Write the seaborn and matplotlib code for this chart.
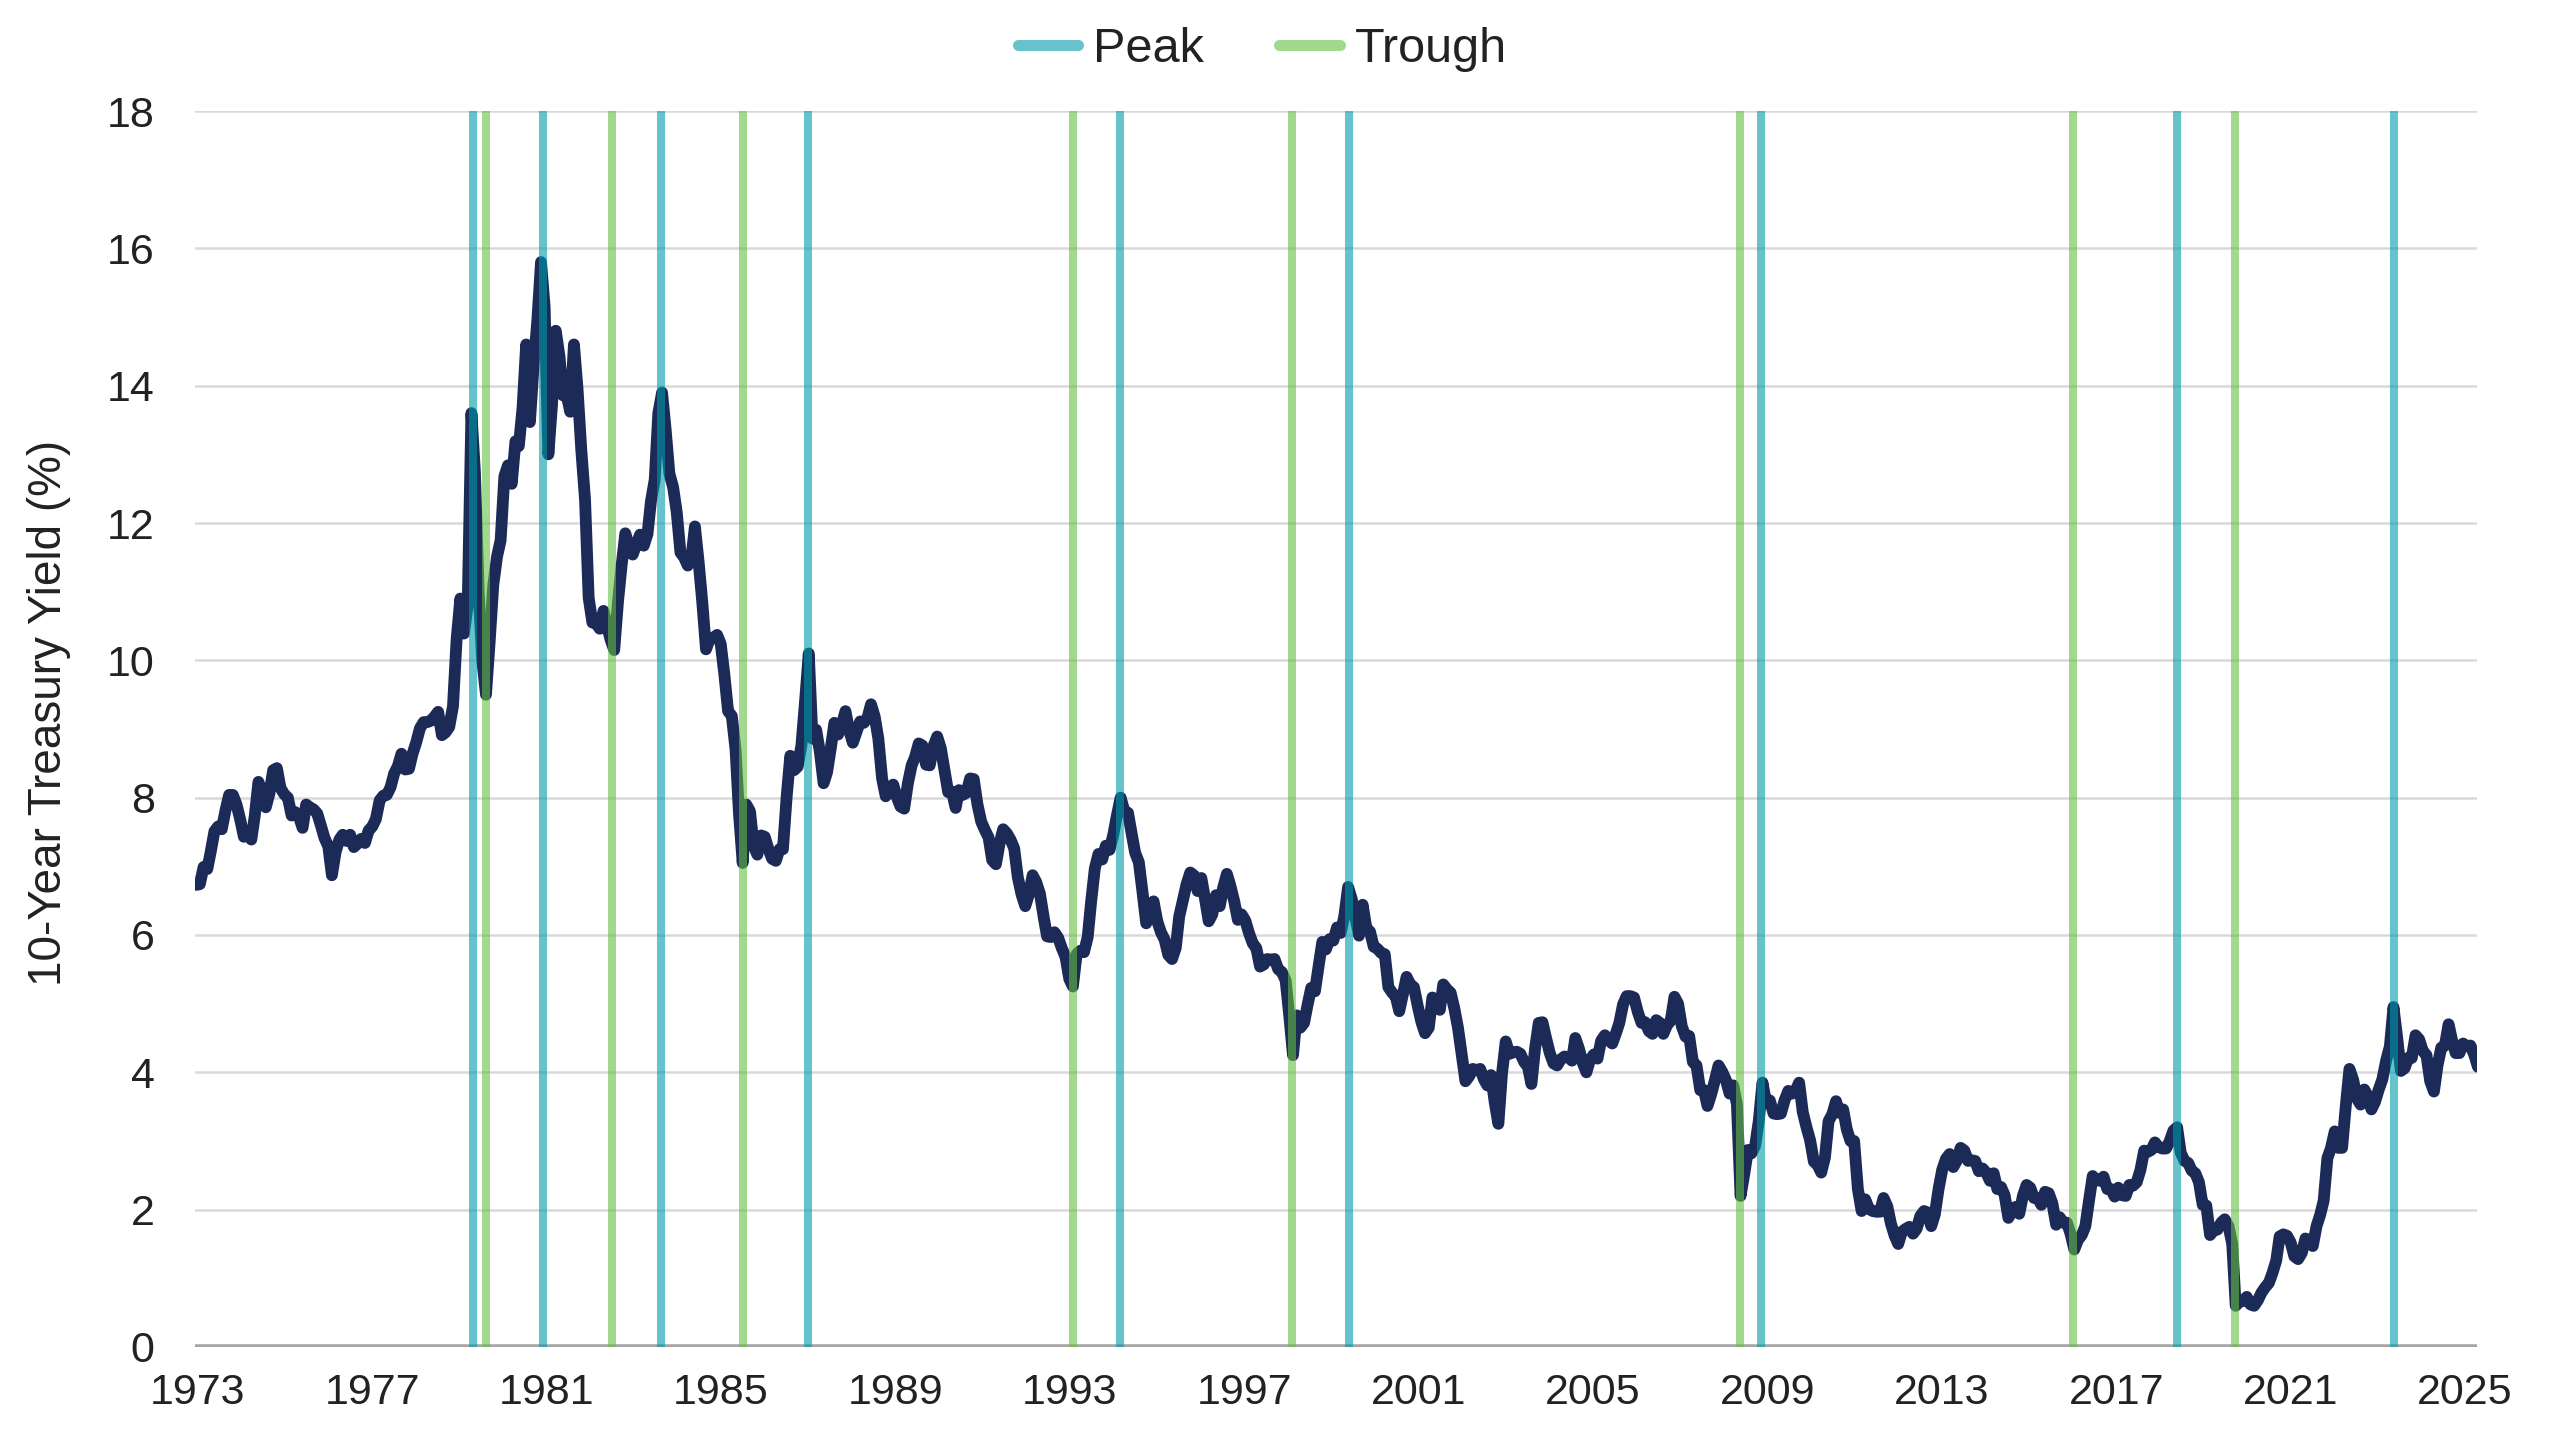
import numpy as np
import pandas as pd
import seaborn as sns
import matplotlib.pyplot as plt
from matplotlib.lines import Line2D

# monthly 10-year treasury yield (%), Nov 1973 .. Sep 2025
y_1970s = [6.73, 6.74,
           6.99, 6.96, 7.21, 7.51, 7.58, 7.54, 7.81, 8.04, 8.04, 7.90, 7.68, 7.43,
           7.50, 7.39, 7.73, 8.23, 8.06, 7.86, 8.06, 8.40, 8.43, 8.14, 8.05, 8.00,
           7.74, 7.79, 7.73, 7.56, 7.90, 7.86, 7.83, 7.77, 7.59, 7.41, 7.29, 6.87,
           7.21, 7.39, 7.46, 7.37, 7.46, 7.28, 7.33, 7.40, 7.34, 7.52, 7.58, 7.69,
           7.96, 8.03, 8.04, 8.15, 8.35, 8.46, 8.64, 8.41, 8.42, 8.64, 8.81, 9.01,
           9.10, 9.10, 9.12, 9.18, 9.25, 8.91, 8.95, 9.03, 9.33, 10.30, 10.90, 10.39]
y_1980s = [10.80, 13.60, 12.75, 11.00, 10.00, 9.50, 10.25, 11.10, 11.51, 11.75, 12.68, 12.84,
           12.57, 13.19, 13.12, 13.68, 14.60, 13.47, 14.28, 14.94, 15.80, 15.15, 13.00, 13.72,
           14.80, 14.43, 13.86, 13.87, 13.62, 14.60, 13.95, 13.06, 12.34, 10.91, 10.55, 10.54,
           10.46, 10.72, 10.51, 10.30, 10.15, 10.85, 11.38, 11.85, 11.65, 11.54, 11.69, 11.83,
           11.67, 11.84, 12.32, 12.63, 13.60, 13.90, 13.36, 12.72, 12.52, 12.16, 11.57, 11.50,
           11.38, 11.51, 11.95, 11.43, 10.85, 10.16, 10.31, 10.33, 10.37, 10.24, 9.78, 9.26,
           9.19, 8.70, 7.78, 7.05, 7.90, 7.80, 7.30, 7.17, 7.45, 7.43, 7.25, 7.11,
           7.08, 7.25, 7.25, 8.02, 8.61, 8.40, 8.45, 8.76, 9.42, 10.10, 8.86, 8.99,
           8.67, 8.21, 8.37, 8.72, 9.09, 8.92, 9.06, 9.26, 8.98, 8.80, 8.96, 9.11,
           9.09, 9.17, 9.36, 9.18, 8.86, 8.28, 8.02, 8.11, 8.19, 8.01, 7.87, 7.84]
y_1990s = [8.21, 8.47, 8.59, 8.79, 8.76, 8.48, 8.47, 8.75, 8.89, 8.72, 8.39, 8.08,
           8.09, 7.85, 8.11, 8.04, 8.07, 8.28, 8.27, 7.90, 7.65, 7.53, 7.42, 7.09,
           7.03, 7.34, 7.54, 7.48, 7.39, 7.26, 6.84, 6.59, 6.42, 6.59, 6.87, 6.77,
           6.60, 6.26, 5.98, 5.97, 6.04, 5.96, 5.81, 5.68, 5.36, 5.25, 5.72, 5.77,
           5.75, 5.97, 6.48, 6.97, 7.18, 7.10, 7.30, 7.24, 7.46, 7.74, 8.00, 7.81,
           7.78, 7.47, 7.20, 7.06, 6.63, 6.17, 6.28, 6.49, 6.20, 6.04, 5.93, 5.71,
           5.65, 5.81, 6.27, 6.51, 6.74, 6.91, 6.87, 6.64, 6.83, 6.53, 6.20, 6.30,
           6.58, 6.42, 6.69, 6.89, 6.71, 6.49, 6.22, 6.30, 6.21, 6.03, 5.88, 5.81,
           5.54, 5.57, 5.65, 5.64, 5.65, 5.50, 5.46, 5.34, 4.81, 4.25, 4.83, 4.65,
           4.72, 5.00, 5.23, 5.18, 5.54, 5.90, 5.79, 5.94, 5.92, 6.11, 6.03, 6.28]
y_2000s = [6.70, 6.52, 6.26, 5.99, 6.44, 6.10, 6.05, 5.83, 5.80, 5.74, 5.72, 5.24,
           5.16, 5.10, 4.89, 5.14, 5.39, 5.28, 5.24, 4.97, 4.73, 4.57, 4.65, 5.09,
           5.04, 4.91, 5.28, 5.21, 5.16, 4.93, 4.65, 4.26, 3.87, 3.94, 4.05, 4.03,
           4.05, 3.90, 3.81, 3.96, 3.57, 3.25, 3.98, 4.45, 4.27, 4.29, 4.30, 4.27,
           4.15, 4.08, 3.83, 4.35, 4.72, 4.73, 4.50, 4.28, 4.13, 4.10, 4.19, 4.23,
           4.22, 4.17, 4.50, 4.34, 4.14, 4.00, 4.18, 4.26, 4.20, 4.46, 4.54, 4.47,
           4.42, 4.57, 4.72, 4.99, 5.11, 5.11, 5.09, 4.88, 4.72, 4.73, 4.60, 4.56,
           4.76, 4.72, 4.56, 4.69, 4.75, 5.10, 5.00, 4.67, 4.52, 4.53, 4.15, 4.10,
           3.74, 3.74, 3.51, 3.68, 3.88, 4.10, 4.01, 3.89, 3.69, 3.81, 3.53, 2.20,
           2.52, 2.87, 2.82, 2.93, 3.29, 3.85, 3.56, 3.59, 3.40, 3.39, 3.40, 3.59]
y_2010s = [3.73, 3.69, 3.73, 3.85, 3.42, 3.20, 3.01, 2.70, 2.65, 2.54, 2.76, 3.29,
           3.39, 3.58, 3.41, 3.46, 3.17, 3.00, 3.00, 2.30, 1.98, 2.15, 2.01, 1.98,
           1.97, 1.97, 2.17, 2.05, 1.80, 1.62, 1.50, 1.68, 1.72, 1.75, 1.65, 1.72,
           1.91, 1.98, 1.96, 1.76, 1.93, 2.30, 2.58, 2.74, 2.81, 2.62, 2.72, 2.90,
           2.86, 2.71, 2.72, 2.71, 2.56, 2.60, 2.54, 2.42, 2.53, 2.30, 2.33, 2.21,
           1.88, 1.98, 2.04, 1.94, 2.20, 2.36, 2.32, 2.17, 2.17, 2.07, 2.26, 2.24,
           2.09, 1.78, 1.89, 1.81, 1.81, 1.64, 1.42, 1.56, 1.63, 1.76, 2.14, 2.49,
           2.43, 2.42, 2.48, 2.30, 2.30, 2.19, 2.32, 2.21, 2.20, 2.36, 2.35, 2.40,
           2.58, 2.86, 2.84, 2.87, 2.98, 2.91, 2.89, 2.89, 3.00, 3.15, 3.20, 2.83,
           2.71, 2.68, 2.57, 2.53, 2.40, 2.07, 2.06, 1.63, 1.70, 1.71, 1.81, 1.86]
y_2020s = [1.76, 1.50, 0.60, 0.66, 0.67, 0.73, 0.62, 0.60, 0.68, 0.79, 0.87, 0.93,
           1.08, 1.26, 1.61, 1.64, 1.62, 1.52, 1.32, 1.28, 1.37, 1.58, 1.56, 1.47,
           1.76, 1.93, 2.13, 2.75, 2.90, 3.14, 2.90, 2.90, 3.52, 4.05, 3.89, 3.62,
           3.53, 3.75, 3.66, 3.46, 3.57, 3.75, 3.90, 4.17, 4.38, 4.95, 4.50, 4.02,
           4.06, 4.21, 4.21, 4.54, 4.48, 4.31, 4.25, 3.87, 3.72, 4.10, 4.36, 4.39,
           4.70, 4.45, 4.28, 4.28, 4.42, 4.38, 4.39, 4.26, 4.08]

peak_dates = ['1980-02-28', '1981-10-01', '1984-06-06', '1987-10-08', '1994-11-10',
              '2000-01-22', '2009-06-03', '2018-11-14', '2023-10-19']
trough_dates = ['1980-06-16', '1983-04-27', '1986-04-16', '1993-10-16', '1998-10-05',
                '2008-12-10', '2016-07-05', '2020-03-10']

tick_labels = [str(y) for y in range(1973, 2026, 4)]


def decimal_year(d):
    d = pd.to_datetime(d)
    return d.year + (d.dayofyear - 0.5) / np.where(d.is_leap_year, 366, 365)


yields = y_1970s + y_1980s + y_1990s + y_2000s + y_2010s + y_2020s
dates = pd.date_range('1973-11-01', periods=len(yields), freq='MS') + pd.Timedelta(days=14)
df = pd.DataFrame({'t': decimal_year(dates), 'yield': yields})

sns.set_theme(style='white')
plt.rcParams['font.family'] = ['Liberation Sans', 'DejaVu Sans']

fig = plt.figure(figsize=(25.6, 14.47), dpi=100)
ax = fig.add_axes([195 / 2560, 100 / 1447, 2282 / 2560, 1236 / 1447])

navy = '#1b2a56'
peak_col = '#009baa'
trough_col = '#66be44'

sns.lineplot(data=df, x='t', y='yield', color=navy, linewidth=8.5, ax=ax,
             solid_capstyle='round', solid_joinstyle='round', zorder=2)

for d in decimal_year(peak_dates):
    ax.axvline(d, color=peak_col, alpha=0.6, linewidth=5.8, zorder=4)
for d in decimal_year(trough_dates):
    ax.axvline(d, color=trough_col, alpha=0.6, linewidth=5.8, zorder=4)

ax.axhline(0, color='#a6a6a6', linewidth=4, zorder=3)

ax.set_xlim(1973.845, 2025.685)
ax.set_ylim(0, 18)
ax.set_yticks(range(0, 19, 2))
ax.set_xticks(np.linspace(1973.913, 2025.41, len(tick_labels)))
ax.set_xticklabels(tick_labels)
ax.yaxis.grid(True, color='#d9d9d9', linewidth=1.8)
ax.set_axisbelow(True)
for s in ax.spines.values():
    s.set_visible(False)
ax.tick_params(axis='both', length=0, labelsize=31, colors='#222222')
ax.tick_params(axis='y', pad=29)
ax.tick_params(axis='x', pad=19)
ax.set_xlabel('')
ax.set_ylabel('10-Year Treasury Yield (%)', fontsize=33, color='#222222')
ax.yaxis.set_label_coords(-0.0545, 0.513)

handles = [Line2D([0], [0], color=peak_col, alpha=0.6, linewidth=8),
           Line2D([0], [0], color=trough_col, alpha=0.6, linewidth=8)]
fig.legend(handles, ['Peak', 'Trough'], loc='center', bbox_to_anchor=(0.493, 0.966),
           ncol=2, frameon=False, handlelength=1.25, handletextpad=0.3, columnspacing=1.55,
           prop={'family': ['Liberation Sans Narrow', 'Liberation Sans'], 'size': 35},
           labelcolor='#222222')

fig.savefig('out.png', dpi=100)
